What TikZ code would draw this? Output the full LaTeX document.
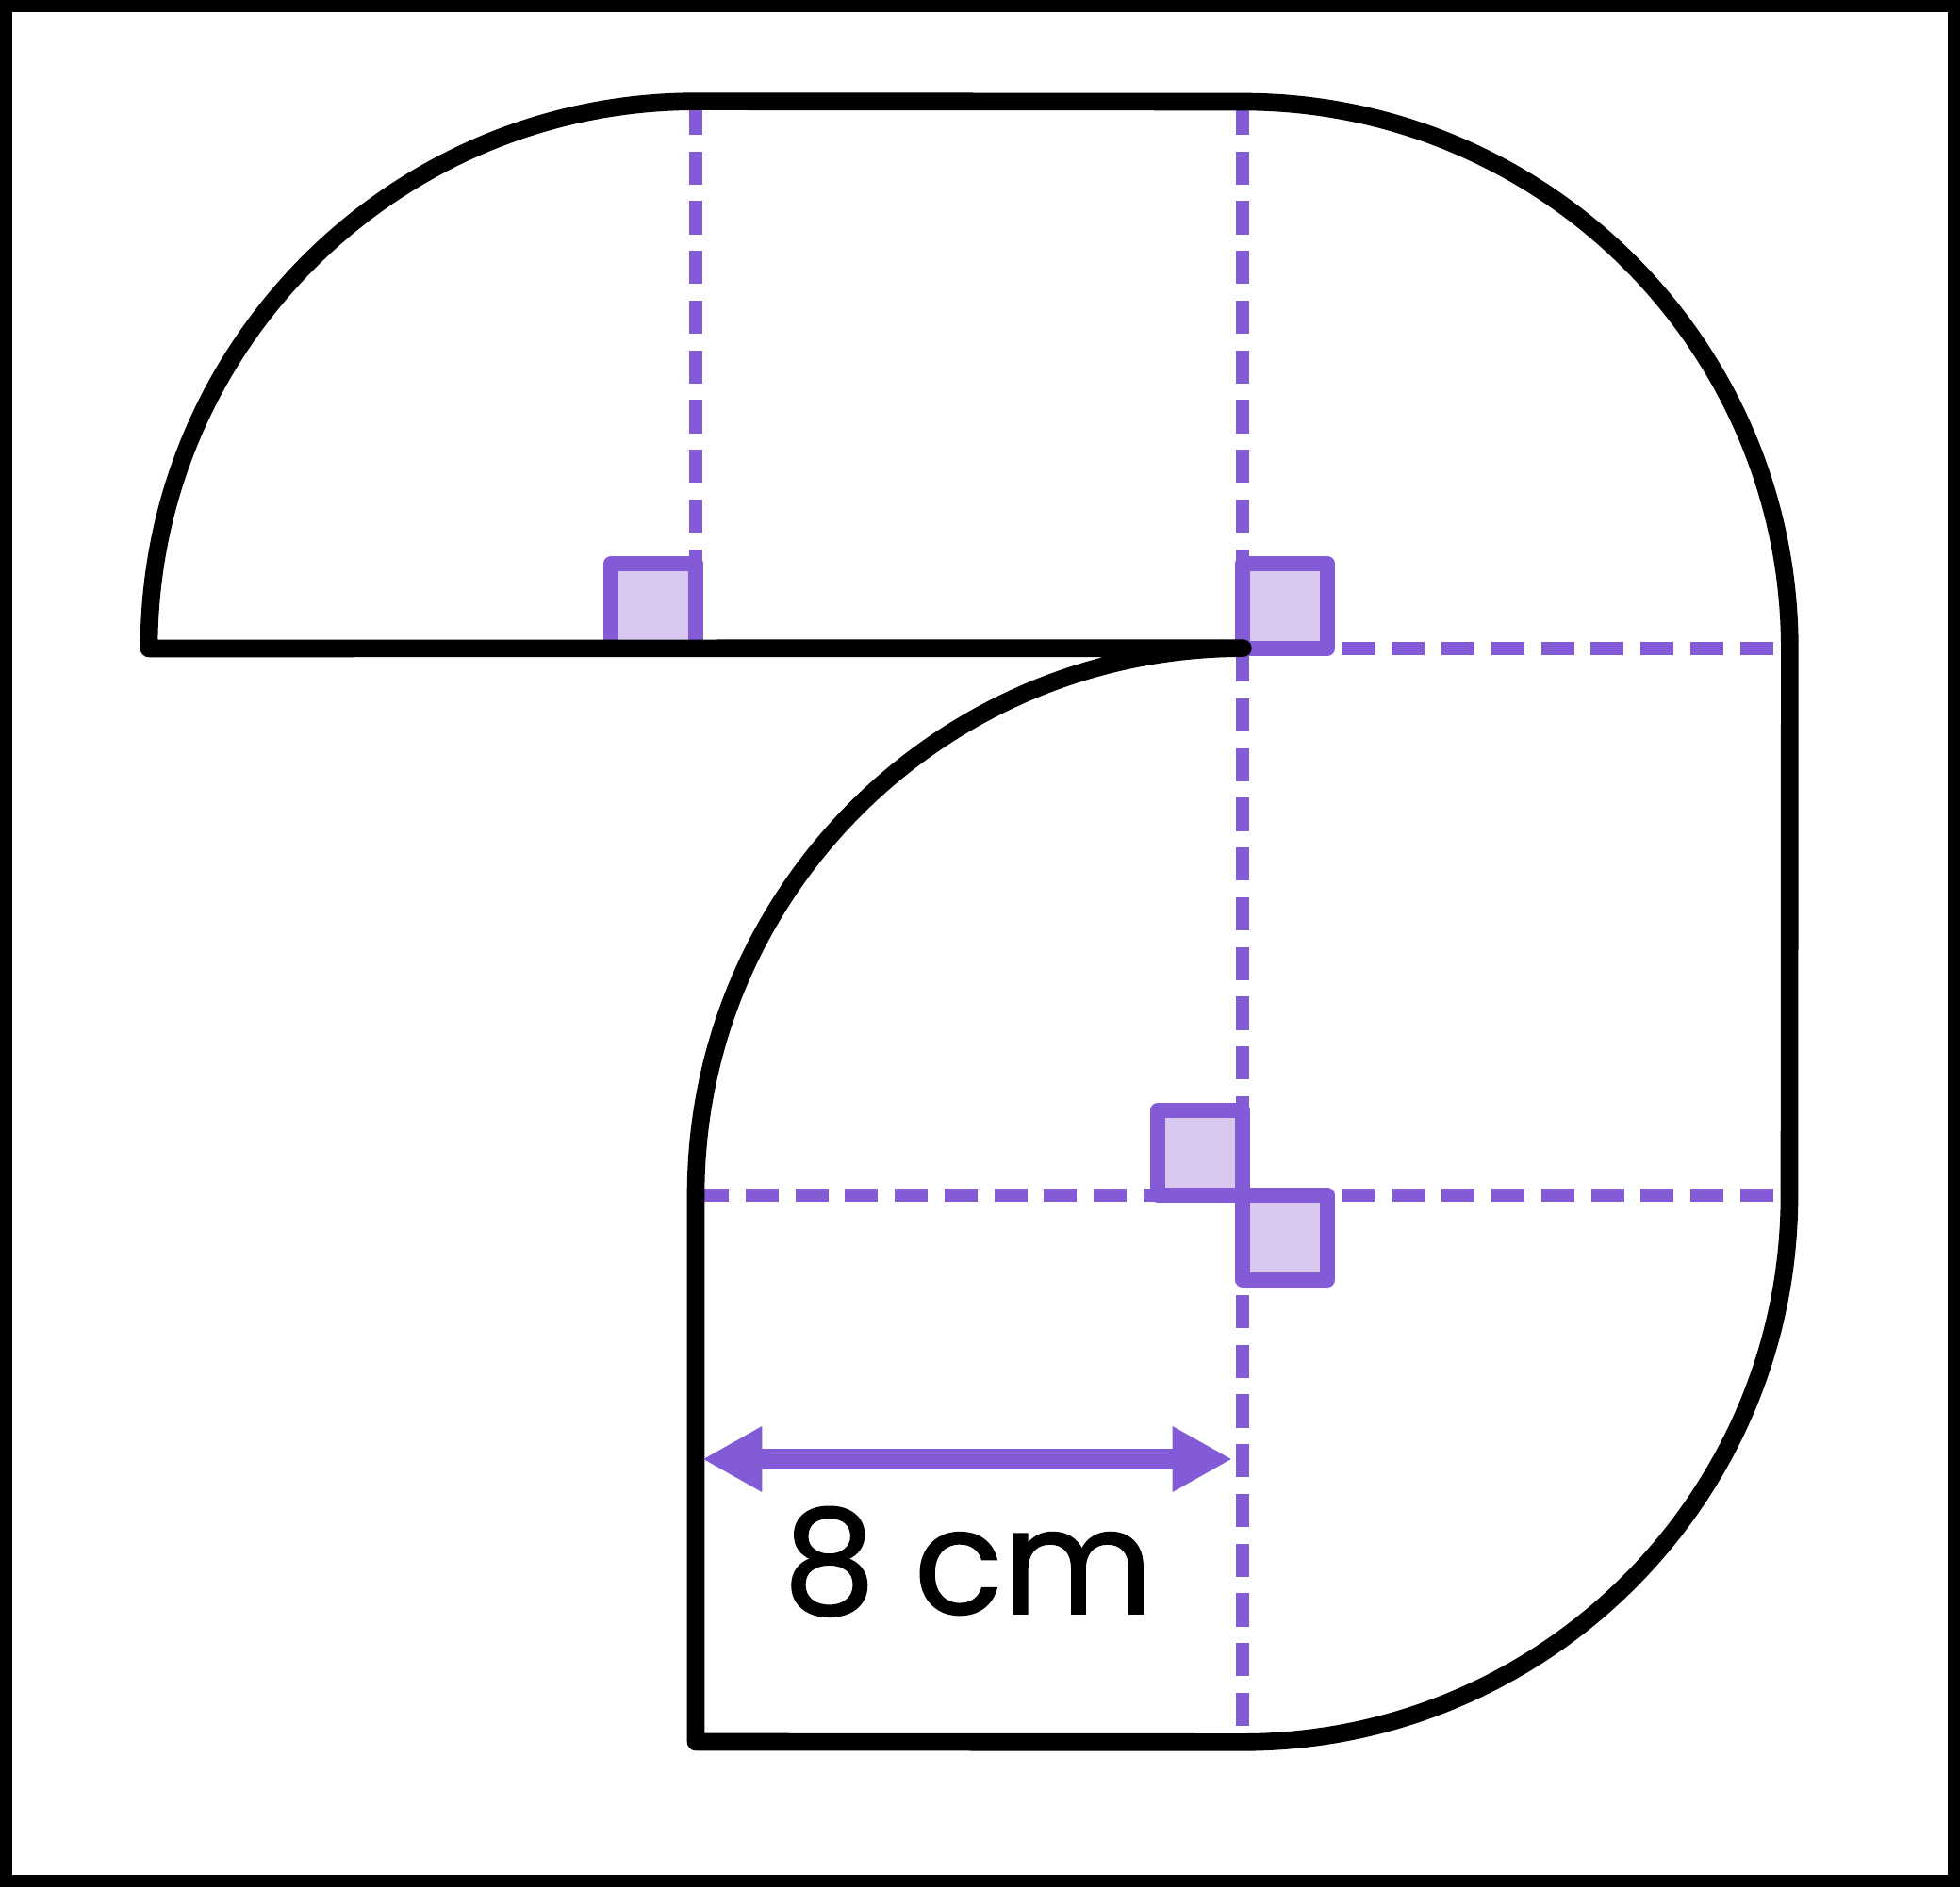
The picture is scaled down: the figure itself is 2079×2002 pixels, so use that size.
\documentclass[tikz,border=0pt]{standalone}
\usepackage{fontspec}
\setmainfont{Poppins}
\newfontfamily\lblfont{Poppins}[FakeBold=1.2]
\usetikzlibrary{arrows.meta}
\definecolor{vio}{HTML}{845BD6}
\definecolor{viofill}{HTML}{D8C8F0}
\tikzset{
  outline/.style={line width=5.3pt, line cap=round, line join=round, black},
  guide/.style={line width=4pt, vio, dash pattern=on 10pt off 5pt},
  rightmark/.style={line width=4.5pt, draw=vio, fill=viofill, line join=round},
  dimarrow/.style={line width=6.5pt, vio, {Triangle[length=18pt,width=18.5pt]}-{Triangle[length=18pt,width=18.5pt]}},
  framebox/.style={line width=3.6pt, black},
  lbl/.style={font=\lblfont\fontsize{44}{50}\selectfont, anchor=base, inner sep=0pt}
}
\begin{document}
\begin{tikzpicture}[x=0.01cm,y=0.01cm]
\useasboundingbox (0,0) rectangle (2079,2002);
\fill[white] (0,0) rectangle (2079,2002);
\draw[framebox] (6.3,6.3) rectangle (2072.7,1995.7);
% guide lines
\coordinate (tl) at (738,1894);
\coordinate (ml) at (738,1314);
\coordinate (tc) at (1318,1894);
\coordinate (bc) at (1318,154);
\coordinate (mc) at (1318,1314);
\coordinate (mr) at (1898,1314);
\coordinate (ll) at (738,734);
\coordinate (lr) at (1898,734);
\draw[guide] (tl) -- (ml);
\draw[guide] (tc) -- (bc);
\draw[guide] (mc) -- (mr);
\draw[guide] (ll) -- (lr);
% right-angle marks
\draw[rightmark] (648,1314) rectangle (738,1404);
\draw[rightmark] (1318,1314) rectangle (1408,1404);
\draw[rightmark] (1228,734) rectangle (1318,824);
\draw[rightmark] (1318,644) rectangle (1408,734);
% outline
\draw[outline] (158,1314) arc[start angle=180, end angle=90, radius=5.8cm]
  -- (1318,1894) arc[start angle=90, end angle=0, radius=5.8cm]
  -- (1898,734) arc[start angle=0, end angle=-90, radius=5.8cm]
  -- (738,154) -- (738,734) arc[start angle=180, end angle=90, radius=5.8cm]
  -- cycle;
% dimension
\coordinate (a1) at (745,454);
\coordinate (a2) at (1307,454);
\draw[dimarrow] (a1) -- (a2);
\node[lbl] (dim) at (1027,290) {8 cm};
\end{tikzpicture}
\end{document}
